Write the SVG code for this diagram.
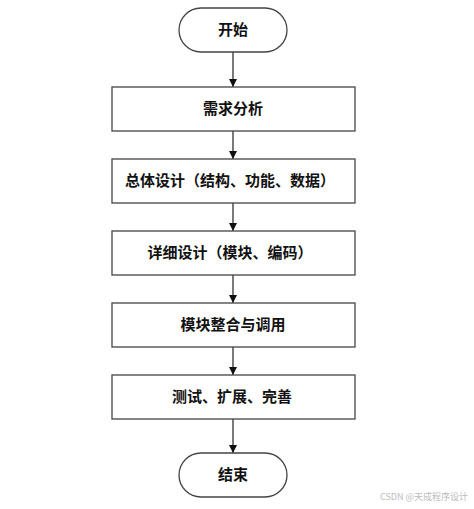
<svg xmlns="http://www.w3.org/2000/svg" width="474" height="509" viewBox="0 0 474 509">
<style>
.box{fill:#fff;stroke:#444;stroke-width:1.3}
.lbl{font-family:"Liberation Serif","Noto Sans CJK SC",serif;font-size:15px;font-weight:bold;fill:#111;text-anchor:middle;dominant-baseline:central}
.edge{stroke:#333;stroke-width:1.3;fill:none;marker-end:url(#ah)}
.wm{font-family:"Noto Sans CJK SC",sans-serif;font-size:9px;fill:#bbb}
</style>
<defs>
<marker id="ah" viewBox="0 0 10 10" refX="10" refY="5" markerWidth="8" markerHeight="8" markerUnits="userSpaceOnUse" orient="auto">
<path d="M0,0 L10,5 L0,10 Z" fill="#111"/>
</marker>
</defs>
<rect width="474" height="509" fill="#fff"/>
<g id="connectors">
<line class="edge" x1="233" y1="52" x2="233" y2="87"/>
<line class="edge" x1="233" y1="131" x2="233" y2="159"/>
<line class="edge" x1="233" y1="203" x2="233" y2="231"/>
<line class="edge" x1="233" y1="275" x2="233" y2="303"/>
<line class="edge" x1="233" y1="347" x2="233" y2="375"/>
<line class="edge" x1="233" y1="419" x2="233" y2="453"/>
</g>
<g id="start"><rect class="box" x="179" y="8" width="108" height="44" rx="22"/><text class="lbl" x="233" y="30">开始</text></g>
<g id="n1"><rect class="box" x="112" y="87" width="243" height="44"/><text class="lbl" x="233" y="109">需求分析</text></g>
<g id="n2"><rect class="box" x="112" y="159" width="243" height="44"/><text class="lbl" x="230" y="181">总体设计（结构、功能、数据）</text></g>
<g id="n3"><rect class="box" x="112" y="231" width="243" height="44"/><text class="lbl" x="230" y="253">详细设计（模块、编码）</text></g>
<g id="n4"><rect class="box" x="112" y="303" width="243" height="44"/><text class="lbl" x="233" y="325">模块整合与调用</text></g>
<g id="n5"><rect class="box" x="112" y="375" width="243" height="44"/><text class="lbl" x="232" y="397">测试、扩展、完善</text></g>
<g id="end"><rect class="box" x="179" y="453" width="108" height="44" rx="22"/><text class="lbl" x="233" y="475">结束</text></g>
<text class="wm" x="380" y="500">CSDN @天成程序设计</text>
</svg>
